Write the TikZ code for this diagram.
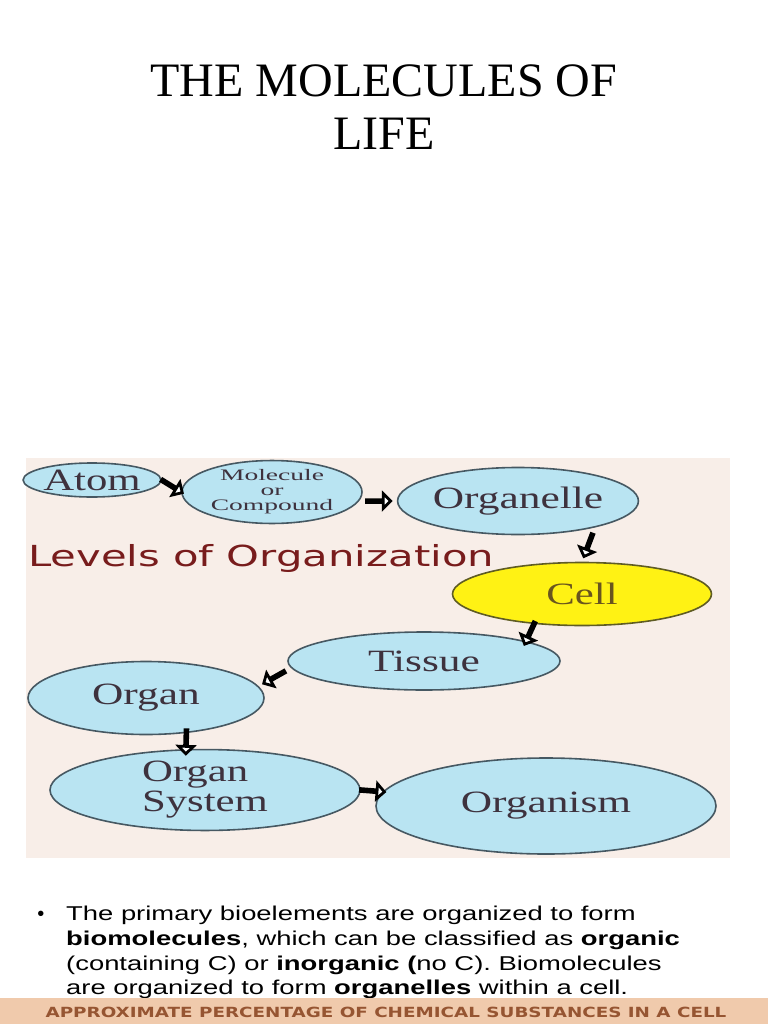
\documentclass[tikz,border=0pt]{standalone}
\usepackage{fontspec}
\usepackage{graphicx}
\setmainfont{Liberation Serif}
\newfontfamily\arialf{Liberation Sans}
\newfontfamily\verdf{DejaVu Sans}
\usetikzlibrary{shapes.geometric,shapes.arrows}
\definecolor{panelbg}{RGB}{248,238,232}
\definecolor{bubfill}{RGB}{185,228,242}
\definecolor{bubedge}{RGB}{70,88,98}
\definecolor{bubtext}{RGB}{62,50,62}
\definecolor{cellfill}{RGB}{255,242,20}
\definecolor{celledge}{RGB}{95,92,35}
\definecolor{celltext}{RGB}{105,85,30}
\definecolor{levels}{RGB}{120,28,28}
\definecolor{barbg}{RGB}{240,202,172}
\definecolor{bartext}{RGB}{150,85,50}
\newcommand{\hsc}[2]{\scalebox{#1}[1]{#2}}
\tikzset{
  bub/.style={ellipse, draw=bubedge, fill=bubfill, line width=1.6, inner sep=0pt,
    text=bubtext, font=\fontsize{31}{32}\selectfont, align=center},
  barrow/.style={single arrow, draw=black, fill=white, line width=2.8,
    minimum height=24, minimum width=9, single arrow head extend=6,
    inner sep=0pt, sloped, allow upside down, midway},
  bline/.style={anchor=base west, inner sep=0pt, font=\arialf\fontsize{20}{26}\selectfont}
}
\begin{document}
\begin{tikzpicture}[x=1pt,y=-1pt]
\useasboundingbox (0,0) rectangle (768,1024);
\fill[white] (0,0) rectangle (768,1024);
% title
\node[anchor=base, inner sep=0pt, font=\fontsize{48}{53}\selectfont] (t1) at (384,97) {THE MOLECULES OF};
\node[anchor=base, inner sep=0pt, font=\fontsize{48}{53}\selectfont] (t2) at (384,150) {LIFE};
% panel
\fill[panelbg] (26,458) rectangle (730,858);
% nodes
\node[bub, minimum width=128, minimum height=34] (atom) at (92,480) {\hsc{1.38}{Atom}};
\node[bub, minimum width=180, minimum height=60, font=\fontsize{16}{15}\selectfont] (mol) at (272,492)
  {\hsc{1.72}{Molecule}\\\hsc{1.72}{or}\\\hsc{1.72}{Compound}};
\node[bub, minimum width=237, minimum height=67] (org) at (518,501) {\hsc{1.4}{Organelle}};
\node[anchor=base west, inner sep=0pt, font=\verdf\fontsize{29}{30}\selectfont, text=levels] (lvl) at (28,566)
  {\hsc{1.44}{Levels of Organization}};
\node[bub, fill=cellfill, draw=celledge, text=celltext, minimum width=259, minimum height=63] (cell) at (582,594) {\hsc{1.38}{Cell}};
\node[bub, minimum width=272, minimum height=58] (tis) at (424,661) {\hsc{1.4}{Tissue}};
\node[bub, minimum width=236, minimum height=73] (organ) at (146,698) {\hsc{1.4}{Organ}};
\node[bub, minimum width=310, minimum height=80, align=left, font=\fontsize{31}{30}\selectfont] (os) at (205,790) {\hsc{1.38}{Organ}\\\hsc{1.38}{System}};
\node[bub, minimum width=340, minimum height=96] (orgm) at (546,806) {\hsc{1.4}{Organism}};
% connectors
\path (atom.east) -- (mol.west) node[barrow]{};
\path (mol.-6) -- (org.west) node[barrow]{};
\path (org.-19) -- (cell.north) node[barrow]{};
\path (cell.212) -- (tis.11) node[barrow]{};
\path (tis.183) -- (organ.6) node[barrow]{};
\path (organ.-41) -- (os.115) node[barrow]{};
\path (os.east) -- (orgm.175) node[barrow]{};
% bullet text
\node[anchor=base, inner sep=0pt, font=\arialf\fontsize{20}{26}\selectfont] (bul) at (41,920) {•};
\node[bline] (b1) at (66,920) {\hsc{1.37}{The primary bioelements are organized to form}};
\node[bline] (b2) at (66,945) {\hsc{1.37}{\textbf{biomolecules}, which can be classified as \textbf{organic}}};
\node[bline] (b3) at (66,970) {\hsc{1.37}{(containing C) or \textbf{inorganic (}no C). Biomolecules}};
\node[bline] (b4) at (66,994) {\hsc{1.37}{are organized to form \textbf{organelles} within a cell.}};
% bottom bar
\fill[barbg] (0,998) rectangle (768,1024);
\node[anchor=base, inner sep=0pt, font=\verdf\bfseries\fontsize{14}{15}\selectfont, text=bartext] (bar) at (386,1017)
  {\hsc{1.31}{APPROXIMATE PERCENTAGE OF CHEMICAL SUBSTANCES IN A CELL}};
\end{tikzpicture}
\end{document}
